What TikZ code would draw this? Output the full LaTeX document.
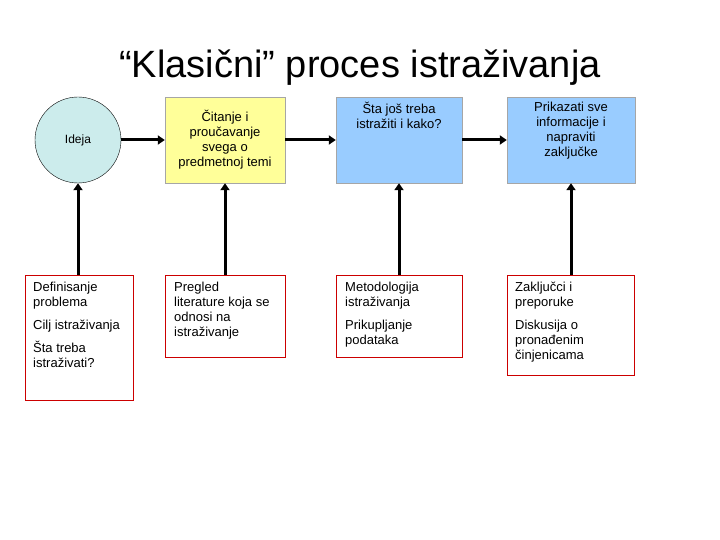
\documentclass[tikz,border=0pt]{standalone}
\usepackage{fontspec}
\setmainfont{Liberation Sans}
\usetikzlibrary{arrows.meta}
\definecolor{cy}{RGB}{204,236,236}
\definecolor{bl}{RGB}{153,204,255}
\definecolor{ye}{RGB}{255,255,153}
\begin{document}
\begin{tikzpicture}[x=1pt,y=-1pt,
  top/.style={draw=gray!70,minimum height=86pt,inner sep=0pt},
  tx/.style={align=center,font=\fontsize{13}{15}\selectfont,inner sep=0pt},
  bot/.style={draw=red!80!black,anchor=north west,inner sep=0pt},
  btx/.style={anchor=north west,align=left,font=\fontsize{13}{15}\selectfont,inner sep=0pt},
  arr/.style={line width=3pt,-{Triangle[length=7pt,width=9pt]}}]
\useasboundingbox (0,0) rectangle (720,540);
\node (title) at (360,68) {\fontsize{38}{42}\selectfont “Klasični” proces istraživanja};
\node (c) [circle,draw,fill=cy,minimum size=86pt,font=\fontsize{12}{14}\selectfont] at (78,140) {Ideja};
\node (t2) [top,fill=ye,minimum width=120pt] at (225,140) {};
\node (t2x) [tx] at (t2) {Čitanje i\\ proučavanje\\ svega o\\ predmetnoj temi};
\node (t3) [top,fill=bl,minimum width=126pt] at (399,140) {};
\node (t3x) [tx,anchor=north] at (399,102) {Šta još treba\\ istražiti i kako?};
\node (t4) [top,fill=bl,minimum width=128pt] at (571,140) {};
\node (t4x) [tx,anchor=north] at (571,102) {Prikazati sve\\ informacije i\\ napraviti\\ zaključke};
\node (b1) [bot,minimum width=108pt,minimum height=125pt] at (25,275) {};
\node (b1x) [btx] at (33,282) {Definisanje\\ problema\\[8pt] Cilj istraživanja\\[8pt] Šta treba\\ istraživati?};
\node (b2) [bot,minimum width=120pt,minimum height=82pt] at (165,275) {};
\node (b2x) [btx] at (174,282) {Pregled\\ literature koja se\\ odnosi na\\ istraživanje};
\node (b3) [bot,minimum width=126pt,minimum height=82pt] at (336,275) {};
\node (b3x) [btx] at (345,282) {Metodologija\\ istraživanja\\[8pt] Prikupljanje\\ podataka};
\node (b4) [bot,minimum width=127pt,minimum height=100pt] at (507,275) {};
\node (b4x) [btx] at (515,282) {Zaključci i\\ preporuke\\[8pt] Diskusija o\\ pronađenim\\ činjenicama};
\draw[arr] (b1.north -| c) -- (c.south);
\draw[arr] (b2.north -| t2) -- (t2.south);
\draw[arr] (b3.north -| t3) -- (t3.south);
\draw[arr] (b4.north -| t4) -- (t4.south);
\draw[arr] (c.east) -- (t2.west);
\draw[arr] (t2.east) -- (t3.west);
\draw[arr] (t3.east) -- (t4.west);
\end{tikzpicture}
\end{document}
